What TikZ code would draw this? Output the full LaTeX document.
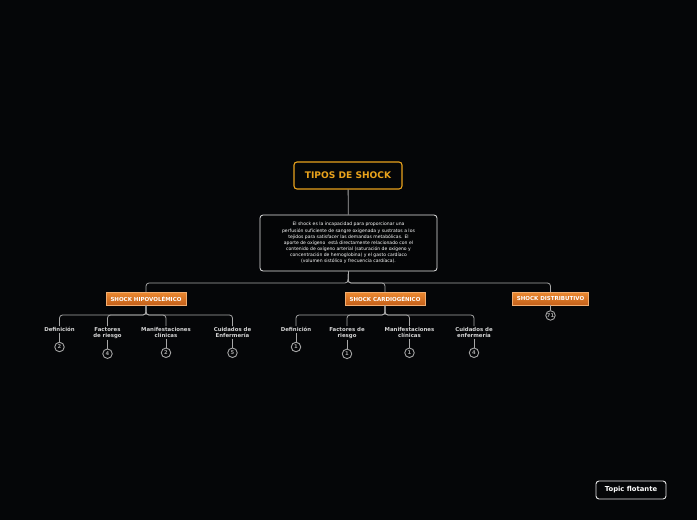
\documentclass[tikz,border=0pt]{standalone}
\usepackage{fontspec}
\setmainfont{DejaVu Sans}
\usetikzlibrary{positioning}
\definecolor{bgdark}{HTML}{050608}
\definecolor{linegray}{HTML}{A8A8A8}
\definecolor{titleorange}{HTML}{E9A21C}
\definecolor{typetop}{HTML}{EC8A32}
\definecolor{typebot}{HTML}{C4601A}
\definecolor{leafgray}{HTML}{D4D4D4}
\definecolor{countgray}{HTML}{A4A4A4}
\tikzset{
  conn/.style={draw=linegray, line width=0.8pt, rounded corners=3pt},
  title/.style={draw=titleorange, line width=1.1pt, rounded corners=3pt, fill=bgdark,
    text=titleorange, font=\bfseries\fontsize{9.1}{10}\selectfont,
    minimum width=108pt, minimum height=27pt},
  desc/.style={draw=white!90!black, line width=0.8pt, rounded corners=3pt, fill=bgdark!80!black,
    text=white, font=\fontsize{4.55}{6.1}\selectfont, align=center,
    minimum width=177pt, minimum height=56pt, inner sep=2pt},
  shocktype/.style={draw=typetop!70!white, line width=0.5pt, top color=typetop, bottom color=typebot,
    text=white, font=\bfseries\fontsize{5.5}{6}\selectfont, minimum height=13pt, inner xsep=4.5pt},
  leaf/.style={text=leafgray, font=\bfseries\fontsize{5.4}{6}\selectfont, align=center, inner sep=1pt},
  count/.style={circle, draw=countgray, line width=0.9pt, fill=bgdark, text=countgray,
    font=\bfseries\fontsize{5.2}{5}\selectfont, minimum size=9.5pt, inner sep=0pt},
  floating/.style={draw=white!90!black, line width=0.9pt, rounded corners=3pt, fill=bgdark,
    text=white, font=\bfseries\fontsize{6.8}{8}\selectfont, minimum width=70pt, minimum height=18pt}
}
\begin{document}
\begin{tikzpicture}[x=1pt,y=-1pt]
  \fill[bgdark] (0,0) rectangle (697,520);
  \useasboundingbox (0,0) rectangle (697,520);

  \node[title] (tipos) at (348,175.5) {TIPOS DE SHOCK};
  \node[desc] (def) at (348.5,243) {El shock es la incapacidad para proporcionar una\\
    perfusión suficiente de sangre oxigenada y sustratos a los\\
    tejidos para satisfacer las demandas metabólicas. El\\
    aporte de oxígeno\ \ está directamente relacionado con el\\
    contenido de oxígeno arterial (saturación de oxígeno y\\
    concentración de hemoglobina) y el gasto cardíaco\\
    (volumen sistólico y frecuencia cardíaca).};
  \draw[conn] (tipos) -- (def);

  \node[shocktype] (hipo) at (146,298.5) {SHOCK HIPOVOLÉMICO};
  \node[shocktype] (cardio) at (385,298.5) {SHOCK CARDIOGÉNICO};
  \node[shocktype] (distri) at (550.5,298.5) {SHOCK DISTRIBUTIVO};
  \coordinate (mainbus) at (348,283);
  \foreach \s in {hipo,cardio,distri}
    \draw[conn] (def.south) -- (mainbus) -| (\s.north);

  % distributivo
  \node[count, below=5pt of distri] (distric) {71};
  \draw[conn] (distri) -- (distric);

  % hipovolemico
  \coordinate (hipobus) at (146,315);
  \foreach \x/\txt/\n [count=\i] in {59.5/{Definición}/2, 107.5/{Factores\\de riesgo}/4,
      166/{Manifestaciones\\clínicas}/2, 232.5/{Cuidados de\\Enfermería}/5}{
    \node[leaf, anchor=north] (hipo\i) at (\x,326) {\txt};
    \draw[conn] (hipo.south) -- (hipobus) -| (hipo\i.north);
    \node[count, below=9pt of hipo\i] (hipoc\i) {\n};
    \draw[conn] (hipo\i) -- (hipoc\i);
  }

  % cardiogenico
  \coordinate (cardiobus) at (385,315);
  \foreach \x/\txt/\n [count=\i] in {296/{Definición}/1, 347/{Factores de\\riesgo}/1,
      409.5/{Manifestaciones\\clínicas}/1, 474/{Cuidados de\\enfermería}/4}{
    \node[leaf, anchor=north] (cardio\i) at (\x,326) {\txt};
    \draw[conn] (cardio.south) -- (cardiobus) -| (cardio\i.north);
    \node[count, below=9pt of cardio\i] (cardioc\i) {\n};
    \draw[conn] (cardio\i) -- (cardioc\i);
  }

  \node[floating] (flot) at (631,490) {Topic flotante};
\end{tikzpicture}
\end{document}
